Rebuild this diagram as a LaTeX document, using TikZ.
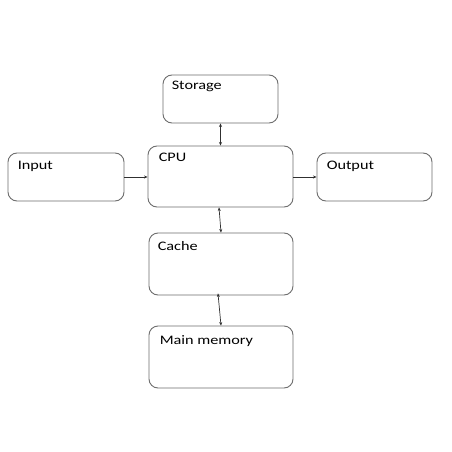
\documentclass[tikz,border=0pt]{standalone}
\usepackage{fontspec}
\usepackage{graphicx}
\setmainfont{Carlito}
\usetikzlibrary{arrows.meta}
\definecolor{boxgray}{HTML}{6E6E6E}
\definecolor{arrowcol}{HTML}{303030}
\begin{document}
\begin{tikzpicture}[x=1pt,y=-1pt,
  blk/.style={draw=boxgray, line width=0.9pt, rounded corners=9pt, inner sep=0pt, fill=white},
  lbl/.style={anchor=base west, inner sep=0pt, font=\fontsize{13}{15}\selectfont, text=black},
  conn/.style={draw=arrowcol, line width=0.7pt, -{Stealth[length=3.5pt,width=3pt]}},
  conn2/.style={draw=arrowcol, line width=0.7pt, {Stealth[length=3.5pt,width=3pt]}-{Stealth[length=3.5pt,width=3pt]}}]
\useasboundingbox[fill=white] (0,0) rectangle (452,452);
% boxes
\node[blk, minimum width=115pt, minimum height=48pt] (storage) at (220.5,99) {};
\node[blk, minimum width=116pt, minimum height=48pt] (input) at (66,177) {};
\node[blk, minimum width=145pt, minimum height=61pt] (cpu) at (220.5,176.5) {};
\node[blk, minimum width=115pt, minimum height=48pt] (output) at (374.5,177) {};
\node[blk, minimum width=144pt, minimum height=62pt] (cache) at (221,264) {};
\node[blk, minimum width=144pt, minimum height=62pt] (mainmem) at (221,357) {};
% labels
\node[lbl] (tstorage) at ([shift={(9,15)}]storage.north west) {\scalebox{1.25}[1]{Storage}};
\node[lbl] (tinput) at ([shift={(10,17)}]input.north west) {\scalebox{1.25}[1]{Input}};
\node[lbl] (tcpu) at ([shift={(11,16)}]cpu.north west) {\scalebox{1.25}[1]{CPU}};
\node[lbl] (toutput) at ([shift={(10,17)}]output.north west) {\scalebox{1.25}[1]{Output}};
\node[lbl] (tcache) at ([shift={(9,18)}]cache.north west) {\scalebox{1.25}[1]{Cache}};
\node[lbl] (tmain) at ([shift={(11,18.5)}]mainmem.north west) {\scalebox{1.25}[1]{Main memory}};
% connectors
\draw[conn2] (storage.south) -- (cpu.north);
\draw[conn] (input.east) -- (input.east -| cpu.west);
\draw[conn] (output.west -| cpu.east) -- (output.west);
\draw[conn2] ([xshift=-1.5pt]cpu.south) -- (cache.north);
\draw[conn2] ([shift={(-3pt,2pt)}]cache.south) -- (mainmem.north);
\end{tikzpicture}
\end{document}
